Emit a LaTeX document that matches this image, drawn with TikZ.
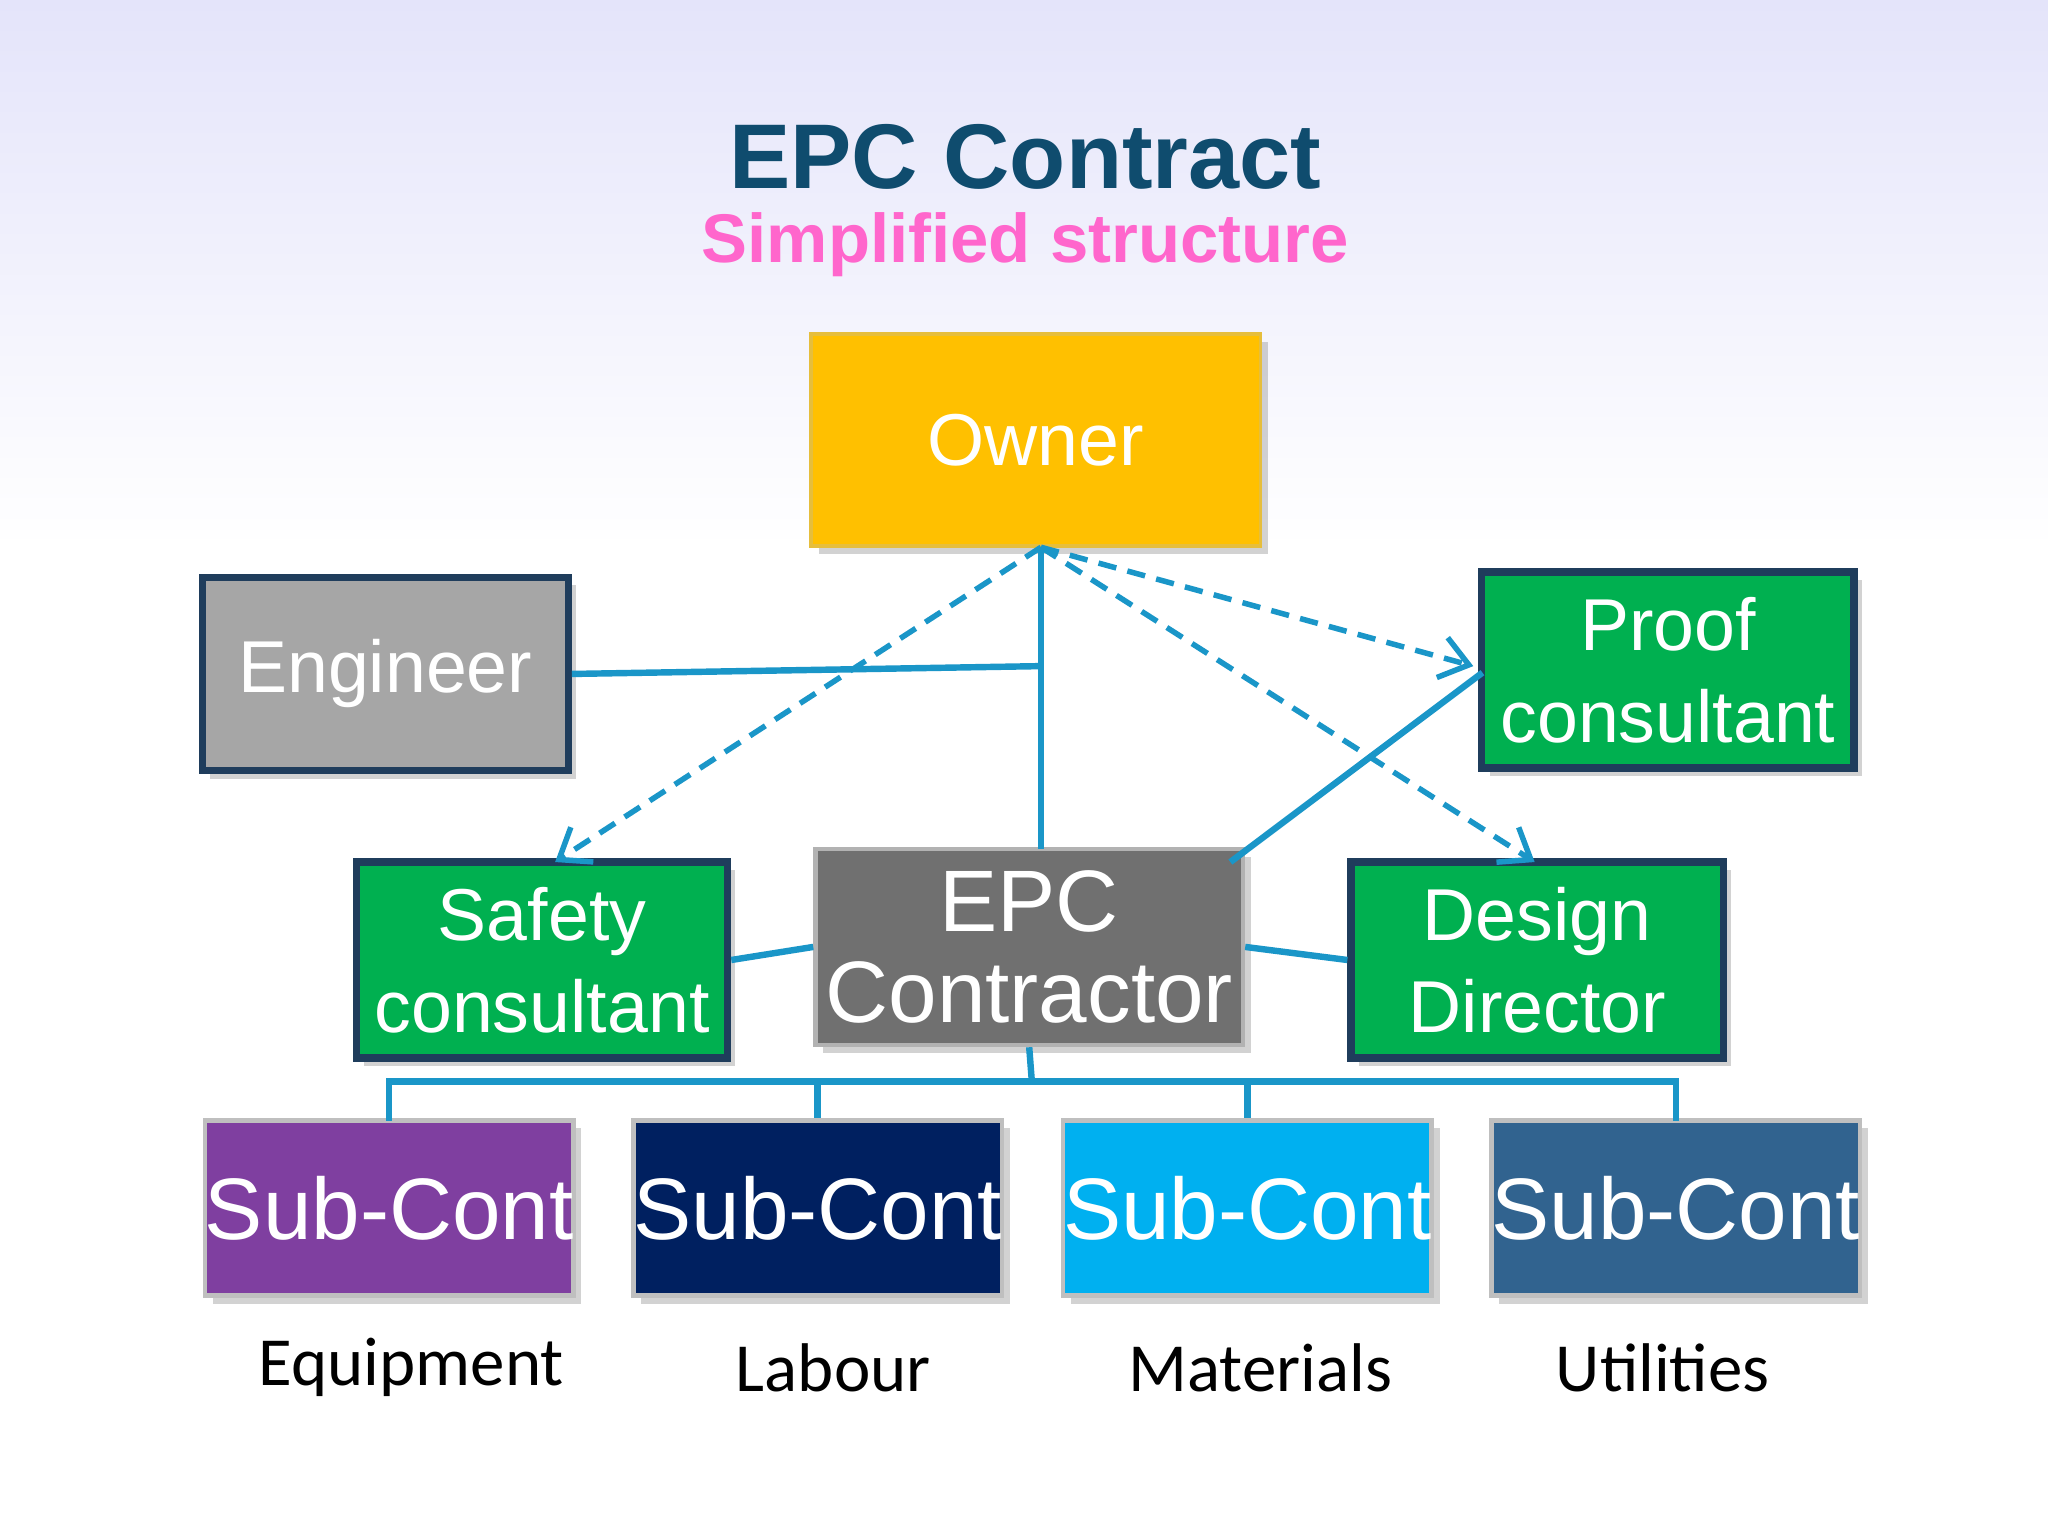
\documentclass[tikz,border=0pt]{standalone}
\usepackage{fontspec}
\setmainfont{Liberation Sans}
\newfontfamily\lab{Carlito}
\usetikzlibrary{shadows,arrows.meta}
\definecolor{ln}{HTML}{1A96C8}
\definecolor{bd}{HTML}{1F3D5C}
\definecolor{grn}{HTML}{00B050}
\definecolor{c1}{HTML}{7F3FA0}
\definecolor{c2}{HTML}{002060}
\definecolor{c3}{HTML}{00B0F0}
\definecolor{c4}{HTML}{31638F}
\definecolor{ttl}{HTML}{0F4C6E}
\definecolor{pnk}{HTML}{FF66CC}
\tikzset{
 box/.style={draw=bd,line width=1.6pt,align=center,text=white,inner sep=0pt,
   drop shadow={shadow xshift=0.06cm,shadow yshift=-0.06cm,opacity=0.35}},
 con/.style={ln,line width=1.4pt},
 dsh/.style={ln,line width=1.2pt,dash pattern=on 4pt off 2.5pt,-{Straight Barb[length=6pt,width=9pt]}},
 lbl/.style={font=\lab\fontsize{15}{18}\selectfont}
}
\begin{document}
\begin{tikzpicture}[x=0.01cm,y=-0.01cm]
\shade[top color={rgb,255:red,228;green,228;blue,250},bottom color=white] (0,0) rectangle (1568,420);
\fill[white] (0,420) rectangle (1568,1176);
\useasboundingbox (0,0) rectangle (1568,1176);
\node (t) at (785,120) {\fontsize{20}{24}\selectfont\bfseries\color{ttl}EPC Contract};
\node (s) at (785,187) {\fontsize{15}{18}\selectfont\bfseries\color{pnk}Simplified structure};
\node[box,draw={rgb,255:red,230;green,190;blue,60},line width=0.8pt,fill={rgb,255:red,255;green,192;blue,0},minimum width=3.44cm,minimum height=1.62cm,font=\fontsize{16}{19}\selectfont] (own) at (793,337) {Owner};
\node[box,fill={rgb,255:red,166;green,166;blue,166},minimum width=2.8cm,minimum height=1.48cm,font=\fontsize{16}{19}\selectfont] (eng) at (295,516) {Engineer};
\node[box,fill=grn,minimum width=2.85cm,minimum height=1.5cm,font=\fontsize{16}{20}\selectfont] (prf) at (1277,513) {Proof\\consultant};
\node[box,fill=grn,minimum width=2.84cm,minimum height=1.5cm,font=\fontsize{16}{20}\selectfont] (saf) at (415,735) {Safety\\consultant};
\node[box,draw=gray!60,line width=1pt,fill={rgb,255:red,112;green,112;blue,112},minimum width=3.27cm,minimum height=1.5cm,font=\fontsize{19}{20}\selectfont] (epc) at (788,725) {EPC\\Contractor};
\node[box,fill=grn,minimum width=2.85cm,minimum height=1.5cm,font=\fontsize{16}{20}\selectfont] (des) at (1177,735) {Design\\Director};
\foreach \n/\x/\c in {s1/298/c1,s2/626/c2,s3/955/c3,s4/1283/c4}{
 \node[box,draw=gray!50,line width=1pt,fill=\c, minimum width=2.7cm,minimum height=1.34cm,font=\fontsize{19}{20}\selectfont] (\n) at (\x,925) {Sub-Cont};}
\node[lbl] (l1) at (315,1047) {Equipment};
\node[lbl] (l2) at (638,1047) {Labour};
\node[lbl] (l3) at (965,1047) {Materials};
\node[lbl] (l4) at (1273,1047) {Utilities};
\coordinate (ob) at (797,419);
\coordinate (et) at (797,650);
\coordinate (ej) at (797,510);
\draw[con] (ob) -- (et);
\draw[con] (eng.east) -- (ej);
\draw[dsh] (ob) -- (425,660);
\draw[dsh] (ob) -- (1128,510);
\draw[dsh] (ob) -- (1175,660);
\draw[con] (942,660) -- (1135,515);
\draw[con] (saf.east) -- (epc.west);
\draw[con] (epc.east) -- (des.west);
\draw[con] (epc.south) -- (790,828);
\draw[con] (298,858) -- (298,828) -- (1283,828) -- (1283,858);
\draw[con] (626,828) -- (s2.north);
\draw[con] (955,828) -- (s3.north);
\end{tikzpicture}
\end{document}
